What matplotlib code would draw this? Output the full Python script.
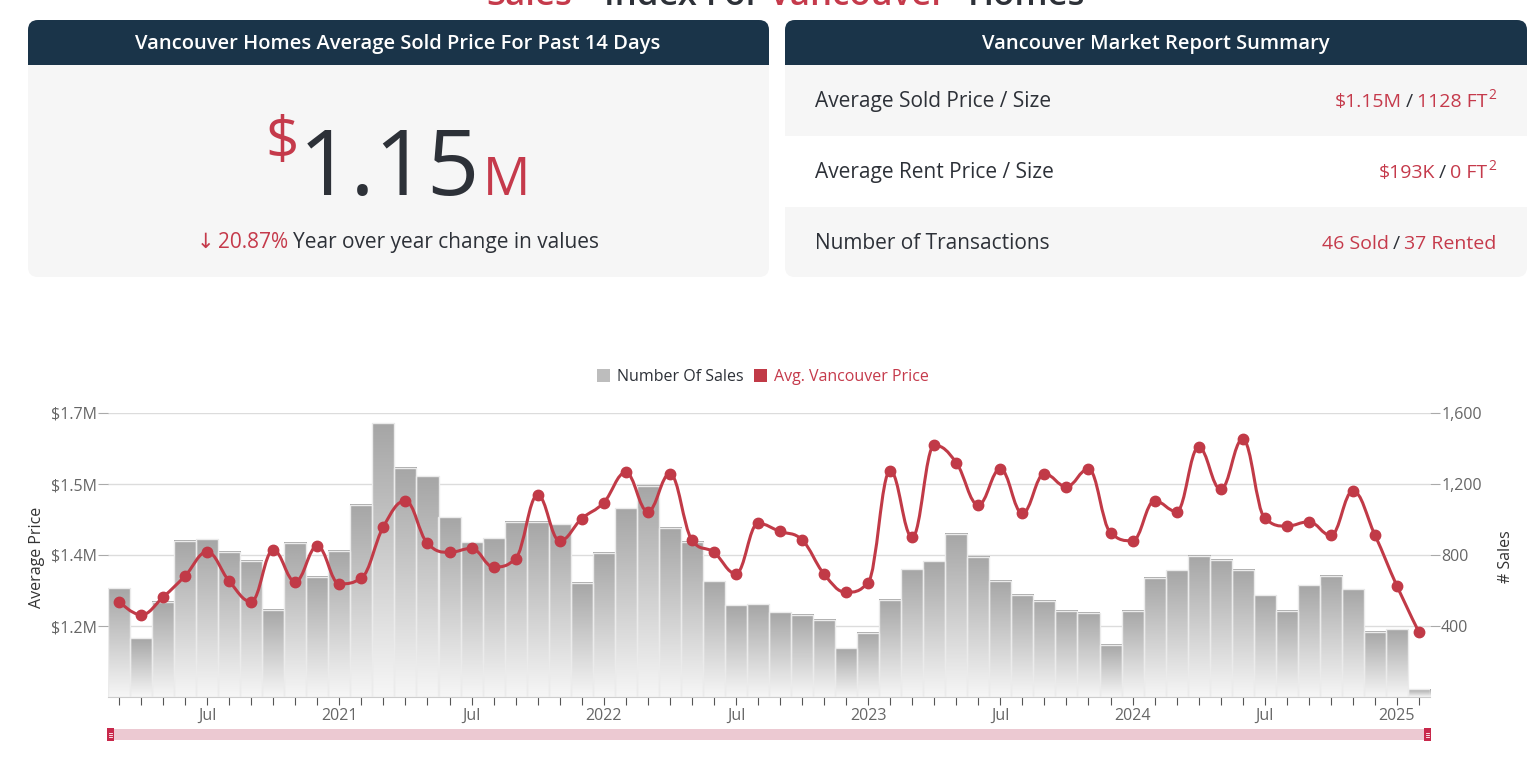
import numpy as np
import pandas as pd
import matplotlib.pyplot as plt
from matplotlib.patches import FancyBboxPatch, Rectangle, Patch, PathPatch
from matplotlib.path import Path
from matplotlib.colors import LinearSegmentedColormap

plt.rcParams['font.family'] = ['Open Sans', 'DejaVu Sans']

# ---- data ----
months = pd.date_range('2020-03-01', periods=60, freq='MS')

sales = [612, 331, 537, 881, 888, 817, 768, 492, 868, 678, 823, 1082, 1542, 1292, 1245,
         1012, 871, 894, 986, 986, 973, 644, 813, 1063, 1190, 954, 875, 652, 517, 522,
         477, 462, 436, 274, 361, 548, 721, 764, 920, 791, 655, 575, 543, 486, 475,
         293, 486, 672, 714, 796, 772, 717, 573, 485, 629, 684, 608, 368, 383, 45]

price_m = [1.255, 1.225, 1.265, 1.313, 1.367, 1.301, 1.255, 1.371, 1.300, 1.380, 1.295, 1.308, 1.424, 1.482, 1.386,
           1.366, 1.375, 1.333, 1.352, 1.495, 1.392, 1.442, 1.478, 1.546, 1.458, 1.543, 1.394, 1.366, 1.318, 1.431,
           1.413, 1.394, 1.317, 1.276, 1.298, 1.550, 1.400, 1.607, 1.568, 1.473, 1.554, 1.454, 1.543, 1.514, 1.554,
           1.410, 1.392, 1.482, 1.458, 1.603, 1.508, 1.621, 1.443, 1.425, 1.435, 1.404, 1.504, 1.405, 1.290, 1.186]

price_ticks = [1.2e6, 1.36e6, 1.52e6, 1.68e6]
sales_ticks = [400, 800, 1200, 1600]

avg_price = '1.15'
yoy_change = '20.87%'
summary_rows = [
    ('Average Sold Price / Size', ['$1.15M', '1128 FT'], True),
    ('Average Rent Price / Size', ['$193K', '0 FT'], True),
    ('Number of Transactions', ['46 Sold', '37 Rented'], False),
]

RED = '#c53a4b'
LINE = '#c13a47'
NAVY = '#1a3449'
DARK = '#2d3138'
GREY = '#666666'

fig = plt.figure(figsize=(15.36, 7.62), dpi=100)

# background layer in pixel coords for cards and slider
bg = fig.add_axes([0, 0, 1, 1], zorder=0)
bg.set_xlim(0, 1536)
bg.set_ylim(762, 0)
bg.axis('off')
R = fig.canvas.get_renderer()


def runs(x, y, parts, ha='left', weight='normal'):
    # parts: (text, color, size, dy, gap_after)
    items = []
    for s, c, size, dy, gap in parts:
        t = bg.text(0, y + dy, s, color=c, fontsize=size, va='baseline', ha='left',
                    fontweight=weight, clip_on=False)
        items.append((t, gap))
    widths = [t.get_window_extent(R).width for t, _ in items]
    total = sum(widths) + sum(g for _, g in items[:-1])
    if ha == 'right':
        cur = x - total
    elif ha == 'center':
        cur = x - total / 2
    else:
        cur = x
    for (t, gap), w in zip(items, widths):
        t.set_x(cur)
        cur += w + gap


def card(x, w):
    bg.add_patch(FancyBboxPatch((x, 20), w, 257, boxstyle='round,pad=0,rounding_size=10',
                                fc='#f6f6f6', ec='none'))
    bg.add_patch(FancyBboxPatch((x, 20), w, 45, boxstyle='round,pad=0,rounding_size=10',
                                fc=NAVY, ec='none'))
    bg.add_patch(Rectangle((x, 45), w, 20, fc=NAVY, ec='none'))


# page title, mostly above the top edge as in the screenshot
runs(786, 5, [('Sales', RED, 25, 0, 32), ('Index For', DARK, 25, 0, 8),
              ('Vancouver', RED, 25, 0, 22), ('Homes', DARK, 25, 0, 0)], ha='center', weight='semibold')

# left card
card(28, 741)
bg.text(398, 44, 'Vancouver Homes Average Sold Price For Past 14 Days', color='white',
        fontsize=14.5, fontweight='semibold', ha='center', va='center')
runs(398, 195, [('$', RED, 42, -36, 0), (avg_price, DARK, 66, 0, 3), ('M', RED, 38, 0, 0)], ha='center')
runs(398, 248, [('\u2193', RED, 15, 0, 3), (yoy_change, RED, 15, 0, 5),
                ('Year over year change in values', DARK, 15, 0, 0)], ha='center')

# right card
card(785, 742)
bg.add_patch(Rectangle((785, 136), 742, 71, fc='white', ec='none'))
bg.text(1156, 44, 'Vancouver Market Report Summary', color='white',
        fontsize=14.5, fontweight='semibold', ha='center', va='center')
for k, (label, vals, sq) in enumerate(summary_rows):
    yb = 107 + 71 * k
    bg.text(815, yb, label, color=DARK, fontsize=15, va='baseline')
    parts = [(vals[0], RED, 14, 0, 4), ('/', DARK, 14, 0, 4), (vals[1], RED, 14, 0, 1)]
    if sq:
        parts.append(('2', RED, 10, -8, 0))
    runs(1496, yb, parts, ha='right')

# slider under chart
bg.add_patch(Rectangle((108, 729), 1322, 11, fc='#ecc9d2', ec='none'))
for hx in (107, 1424):
    bg.add_patch(Rectangle((hx, 728), 7, 13, fc='#c8284b', ec='none'))
    for dy in (732.5, 734.5, 736.5):
        bg.plot([hx + 2, hx + 5], [dy, dy], color='white', lw=0.6)

# axis titles
bg.text(37, 557, 'Average Price', rotation=90, ha='center', va='center', color='#333333', fontsize=11.5)
bg.text(1506, 557, '# Sales', rotation=90, ha='center', va='center', color='#333333', fontsize=11.5)

# ---- chart ----
ax_bar = fig.add_axes([108 / 1536, 1 - 697 / 762, 1322 / 1536, 284 / 762], zorder=2)
ax_bar.patch.set_visible(False)
x = np.arange(len(sales))

cmap = LinearSegmentedColormap.from_list('g', ['#f6f6f6', '#a6a6a6'])
grad = np.linspace(0, 1, 100).reshape(-1, 1)
for xi, s in zip(x, sales):
    ax_bar.imshow(grad, extent=(xi - 0.5, xi + 0.5, 0, s), origin='lower', cmap=cmap,
                  aspect='auto', zorder=2, interpolation='bilinear')
ax_bar.bar(x, sales, width=1, fill=False, edgecolor='#ebebeb', lw=1, zorder=3)

ax_bar.set_xlim(-0.5, len(sales) - 0.5)
ax_bar.set_ylim(0, 1600)
ax_bar.set_yticks(sales_ticks)
ax_bar.set_yticklabels([f'{v:,}' for v in sales_ticks])
ax_bar.yaxis.grid(True, color='#dcdcdc', lw=1, zorder=0)
ax_bar.set_axisbelow(True)
ax_bar.set_xticks(x)
ax_bar.set_xticklabels(['Jul' if m.month == 7 else (str(m.year) if m.month == 1 else '') for m in months])
ax_bar.tick_params(axis='x', length=6, color='#555555', labelcolor=GREY, labelsize=11.5, pad=2)
for sp in ['top', 'left', 'right']:
    ax_bar.spines[sp].set_visible(False)
ax_bar.spines['bottom'].set_color('#cccccc')

ax_line = ax_bar.twinx()
ax_line.set_zorder(3)
ax_line.patch.set_visible(False)
ax_line.set_ylim(1.04e6, 1.68e6)
ax_line.set_yticks(price_ticks)
ax_line.set_yticklabels([f'${v / 1e6:.1f}M' for v in price_ticks])
for s in ax_line.spines.values():
    s.set_visible(False)

# swap sides: price on the left, sales on the right
ax_bar.yaxis.tick_right()
ax_line.yaxis.tick_left()
ax_bar.tick_params(axis='y', length=7, color='#aaaaaa', labelcolor=GREY, labelsize=11.5, pad=1)
ax_line.tick_params(axis='y', length=7, color='#aaaaaa', labelcolor=GREY, labelsize=11.5, pad=1)

# smooth line like a Highcharts spline: control points in display space
price = np.array(price_m) * 1e6
pts = ax_line.transData.transform(np.column_stack([x, price]))
n = len(pts)
lc = pts.copy()
rc = pts.copy()
sm = 1.5
for i in range(1, n - 1):
    px, py = pts[i]
    lx0, ly0 = pts[i - 1]
    nx0, ny0 = pts[i + 1]
    lcx, lcy = (sm * px + lx0) / (sm + 1), (sm * py + ly0) / (sm + 1)
    rcx, rcy = (sm * px + nx0) / (sm + 1), (sm * py + ny0) / (sm + 1)
    corr = (rcy - lcy) * (rcx - px) / (rcx - lcx) + py - rcy
    lcy += corr
    rcy += corr
    if lcy > ly0 and lcy > py:
        lcy = max(ly0, py); rcy = 2 * py - lcy
    elif lcy < ly0 and lcy < py:
        lcy = min(ly0, py); rcy = 2 * py - lcy
    if rcy > ny0 and rcy > py:
        rcy = max(ny0, py); lcy = 2 * py - rcy
    elif rcy < ny0 and rcy < py:
        rcy = min(ny0, py); lcy = 2 * py - rcy
    lc[i] = (lcx, lcy)
    rc[i] = (rcx, rcy)

verts = [pts[0]]
codes = [Path.MOVETO]
for i in range(1, n):
    verts += [rc[i - 1], lc[i], pts[i]]
    codes += [Path.CURVE4] * 3
inv = ax_line.transData.inverted()
path = Path(inv.transform(np.array(verts)), codes)
ax_line.add_patch(PathPatch(path, fill=False, edgecolor=LINE, lw=2.2, zorder=4,
                            capstyle='round', joinstyle='round'))
ax_line.plot(x, price, 'o', color=LINE, ms=7.5, zorder=5)

# legend
leg = fig.legend(handles=[Patch(facecolor='#bdbdbd'), Patch(facecolor=LINE)],
                 labels=['Number Of Sales', 'Avg. Vancouver Price'],
                 loc='center', bbox_to_anchor=(763 / 1536, 1 - 377 / 762), ncol=2, frameon=False,
                 handlelength=0.8, handleheight=0.8, handletextpad=0.4, columnspacing=0.7,
                 fontsize=11.5)
leg.get_texts()[0].set_color(DARK)
leg.get_texts()[1].set_color(RED)

fig.savefig('out.png', dpi=100, facecolor='white')
